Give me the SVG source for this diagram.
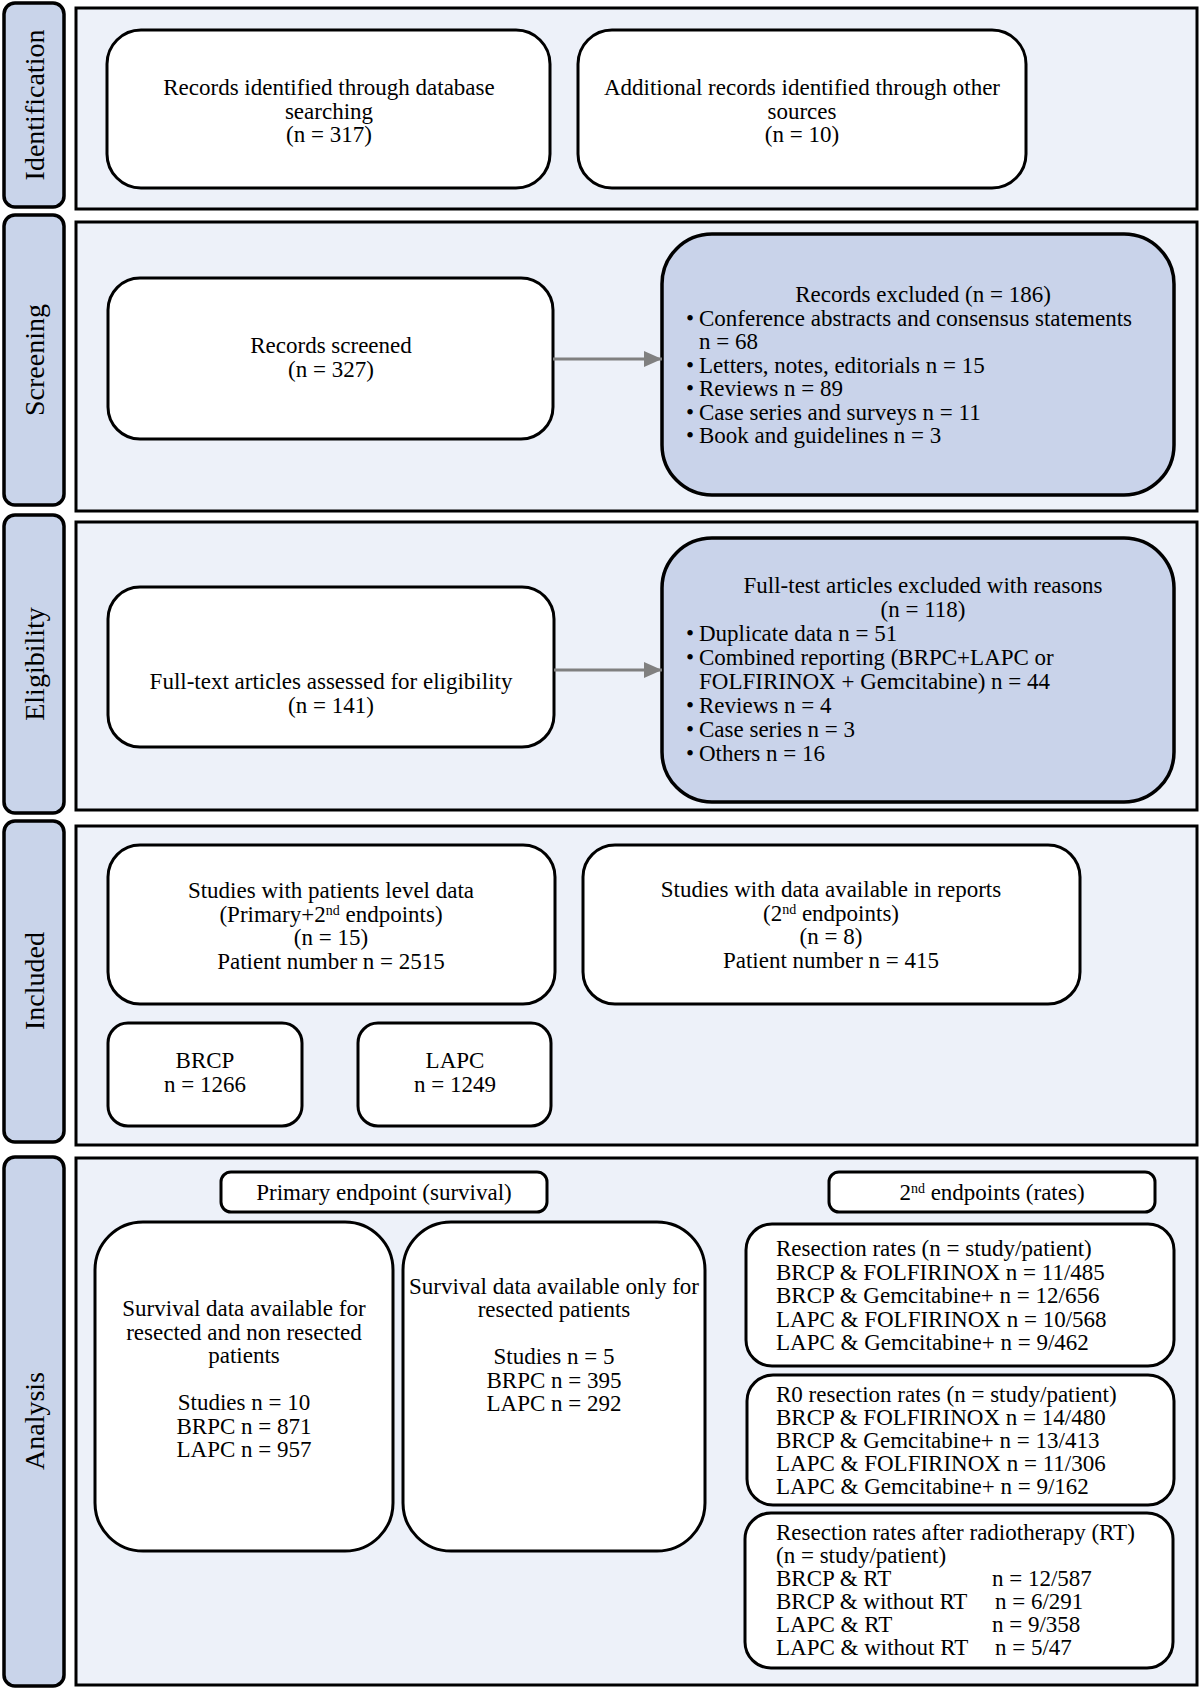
<svg xmlns="http://www.w3.org/2000/svg" width="1200" height="1689" viewBox="0 0 1200 1689">
<defs>
<style>
.panel{fill:#edf1f9;stroke:#000;stroke-width:3}
.lbl{fill:#c9d4ea;stroke:#000;stroke-width:3.5}
.box{fill:#fff;stroke:#000;stroke-width:3}
.shd{fill:#c9d3ea;stroke:#000;stroke-width:3.5}
text{font-family:"Liberation Serif","Times New Roman",serif;font-size:23px;fill:#000}
.c{text-anchor:middle}
.lt{font-size:28px;text-anchor:middle}
.sup{font-size:14px}
.arr{stroke:#808080;stroke-width:3;fill:none}
</style>
<marker id="ah" viewBox="0 0 18 16" refX="18" refY="8" markerWidth="18" markerHeight="16" markerUnits="userSpaceOnUse" orient="auto">
<path d="M0,0 L18,8 L0,16 z" fill="#808080"/>
</marker>
</defs>
<rect width="1200" height="1689" fill="#fff"/>

<!-- Side labels -->
<g id="label-identification"><rect class="lbl" x="4" y="3" width="60" height="204" rx="11"/><text class="lt" x="44" y="105" transform="rotate(-90 44 105)">Identification</text></g>
<g id="label-screening"><rect class="lbl" x="4" y="215" width="60" height="290" rx="11"/><text class="lt" x="44" y="360" transform="rotate(-90 44 360)">Screening</text></g>
<g id="label-eligibility"><rect class="lbl" x="4" y="515" width="60" height="298" rx="11"/><text class="lt" x="44" y="664" transform="rotate(-90 44 664)">Eligibility</text></g>
<g id="label-included"><rect class="lbl" x="4" y="821" width="60" height="321" rx="11"/><text class="lt" x="44" y="981" transform="rotate(-90 44 981)">Included</text></g>
<g id="label-analysis"><rect class="lbl" x="4" y="1157" width="60" height="529" rx="11"/><text class="lt" x="44" y="1421" transform="rotate(-90 44 1421)">Analysis</text></g>

<!-- Panels -->
<g id="panels">
<rect class="panel" x="76" y="8" width="1121" height="201"/>
<rect class="panel" x="76" y="222" width="1121" height="289"/>
<rect class="panel" x="76" y="522" width="1121" height="288"/>
<rect class="panel" x="76" y="826" width="1121" height="319"/>
<rect class="panel" x="76" y="1158" width="1121" height="527"/>
</g>

<!-- Identification -->
<g id="n-db">
<rect class="box" x="107" y="30" width="443" height="158" rx="34"/>
<text class="c" x="329" y="95">Records identified through database</text>
<text class="c" x="329" y="118.5">searching</text>
<text class="c" x="329" y="142">(n = 317)</text>
</g>
<g id="n-other">
<rect class="box" x="578" y="30" width="448" height="158" rx="34"/>
<text class="c" x="802" y="95">Additional records identified through other</text>
<text class="c" x="802" y="118.5">sources</text>
<text class="c" x="802" y="142">(n = 10)</text>
</g>

<!-- Screening -->
<g id="n-screened">
<rect class="box" x="108" y="278" width="445" height="161" rx="32"/>
<text class="c" x="331" y="353">Records screened</text>
<text class="c" x="331" y="376.5">(n = 327)</text>
</g>
<g id="n-excluded">
<rect class="shd" x="662" y="234" width="512" height="261" rx="50"/>
<text class="c" x="923" y="302">Records excluded (n = 186)</text>
<text x="686" y="325.5">•</text><text x="699" y="325.5">Conference abstracts and consensus statements</text>
<text x="699" y="349">n = 68</text>
<text x="686" y="372.5">•</text><text x="699" y="372.5">Letters, notes, editorials n = 15</text>
<text x="686" y="396">•</text><text x="699" y="396">Reviews n = 89</text>
<text x="686" y="419.5">•</text><text x="699" y="419.5">Case series and surveys n = 11</text>
<text x="686" y="443">•</text><text x="699" y="443">Book and guidelines n = 3</text>
</g>

<!-- Eligibility -->
<g id="n-fulltext">
<rect class="box" x="108" y="587" width="446" height="160" rx="32"/>
<text class="c" x="331" y="689">Full-text articles assessed for eligibility</text>
<text class="c" x="331" y="712.5">(n = 141)</text>
</g>
<g id="n-ft-excluded">
<rect class="shd" x="662" y="538" width="512" height="264" rx="50"/>
<text class="c" x="923" y="593">Full-test articles excluded with reasons</text>
<text class="c" x="923" y="617">(n = 118)</text>
<text x="686" y="641">•</text><text x="699" y="641">Duplicate data n = 51</text>
<text x="686" y="665">•</text><text x="699" y="665">Combined reporting (BRPC+LAPC or</text>
<text x="699" y="689">FOLFIRINOX + Gemcitabine) n = 44</text>
<text x="686" y="713">•</text><text x="699" y="713">Reviews n = 4</text>
<text x="686" y="737">•</text><text x="699" y="737">Case series n = 3</text>
<text x="686" y="761">•</text><text x="699" y="761">Others n = 16</text>
</g>

<!-- Included -->
<g id="n-patient-level">
<rect class="box" x="108" y="845" width="447" height="159" rx="32"/>
<text class="c" x="331" y="898">Studies with patients level data</text>
<text class="c" x="331" y="921.5">(Primary+2<tspan class="sup" baseline-shift="super">nd</tspan> endpoints)</text>
<text class="c" x="331" y="945">(n = 15)</text>
<text class="c" x="331" y="968.5">Patient number n = 2515</text>
</g>
<g id="n-reports">
<rect class="box" x="583" y="845" width="497" height="159" rx="32"/>
<text class="c" x="831" y="897">Studies with data available in reports</text>
<text class="c" x="831" y="920.5">(2<tspan class="sup" baseline-shift="super">nd</tspan> endpoints)</text>
<text class="c" x="831" y="944">(n = 8)</text>
<text class="c" x="831" y="967.5">Patient number n = 415</text>
</g>
<g id="n-brcp">
<rect class="box" x="108" y="1023" width="194" height="103" rx="20"/>
<text class="c" x="205" y="1068">BRCP</text>
<text class="c" x="205" y="1092">n = 1266</text>
</g>
<g id="n-lapc">
<rect class="box" x="358" y="1023" width="193" height="103" rx="20"/>
<text class="c" x="455" y="1068">LAPC</text>
<text class="c" x="455" y="1092">n = 1249</text>
</g>

<!-- Analysis -->
<g id="n-primary">
<rect class="box" x="221" y="1172" width="326" height="40" rx="10"/>
<text class="c" x="384" y="1200">Primary endpoint (survival)</text>
</g>
<g id="n-secondary">
<rect class="box" x="829" y="1172" width="326" height="40" rx="10"/>
<text class="c" x="992" y="1200">2<tspan class="sup" baseline-shift="super">nd</tspan> endpoints (rates)</text>
</g>
<g id="n-surv-all">
<rect class="box" x="95" y="1222" width="298" height="329" rx="48"/>
<text class="c" x="244" y="1316">Survival data available for</text>
<text class="c" x="244" y="1339.5">resected and non resected</text>
<text class="c" x="244" y="1363">patients</text>
<text class="c" x="244" y="1410">Studies n = 10</text>
<text class="c" x="244" y="1433.5">BRPC n = 871</text>
<text class="c" x="244" y="1457">LAPC n = 957</text>
</g>
<g id="n-surv-resected">
<rect class="box" x="403" y="1222" width="302" height="329" rx="48"/>
<text class="c" x="554" y="1293.5">Survival data available only for</text>
<text class="c" x="554" y="1317">resected patients</text>
<text class="c" x="554" y="1364">Studies n = 5</text>
<text class="c" x="554" y="1387.5">BRPC n = 395</text>
<text class="c" x="554" y="1411">LAPC n = 292</text>
</g>
<g id="n-resection">
<rect class="box" x="746" y="1224" width="428" height="142" rx="26"/>
<text x="776" y="1256">Resection rates (n = study/patient)</text>
<text x="776" y="1279.5">BRCP &amp; FOLFIRINOX n = 11/485</text>
<text x="776" y="1303">BRCP &amp; Gemcitabine+ n = 12/656</text>
<text x="776" y="1326.5">LAPC &amp; FOLFIRINOX n = 10/568</text>
<text x="776" y="1350">LAPC &amp; Gemcitabine+ n = 9/462</text>
</g>
<g id="n-r0">
<rect class="box" x="747" y="1375" width="427" height="130" rx="26"/>
<text x="776" y="1402">R0 resection rates (n = study/patient)</text>
<text x="776" y="1425">BRCP &amp; FOLFIRINOX n = 14/480</text>
<text x="776" y="1448">BRCP &amp; Gemcitabine+ n = 13/413</text>
<text x="776" y="1471">LAPC &amp; FOLFIRINOX n = 11/306</text>
<text x="776" y="1494">LAPC &amp; Gemcitabine+ n = 9/162</text>
</g>
<g id="n-rt">
<rect class="box" x="745" y="1513" width="428" height="155" rx="26"/>
<text x="776" y="1540">Resection rates after radiotherapy (RT)</text>
<text x="776" y="1563">(n = study/patient)</text>
<text x="776" y="1586">BRCP &amp; RT</text><text x="992" y="1586">n = 12/587</text>
<text x="776" y="1609">BRCP &amp; without RT</text><text x="995" y="1609">n = 6/291</text>
<text x="776" y="1632">LAPC &amp; RT</text><text x="992" y="1632">n = 9/358</text>
<text x="776" y="1655">LAPC &amp; without RT</text><text x="995" y="1655">n = 5/47</text>
</g>

<!-- Connectors -->
<g id="connectors">
<line class="arr" x1="553" y1="359" x2="662" y2="359" marker-end="url(#ah)"/>
<line class="arr" x1="554" y1="670" x2="662" y2="670" marker-end="url(#ah)"/>
</g>
</svg>
